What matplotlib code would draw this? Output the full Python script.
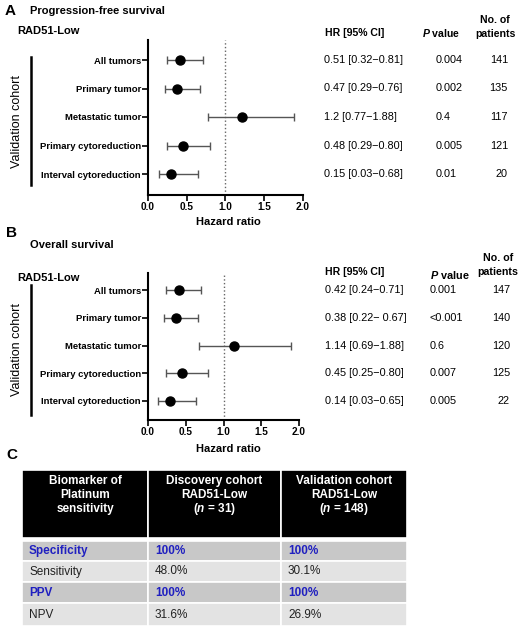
import matplotlib
matplotlib.use("Agg")
import matplotlib.pyplot as plt
from matplotlib.patches import Rectangle

plt.rcParams['font.family'] = ['Liberation Sans', 'DejaVu Sans']
plt.rcParams['mathtext.fontset'] = 'custom'
plt.rcParams['mathtext.it'] = 'Liberation Sans:italic:bold'
plt.rcParams['mathtext.rm'] = 'Liberation Sans:bold'

# ---- data ----
subgroups = ["All tumors", "Primary tumor", "Metastatic tumor",
             "Primary cytoreduction", "Interval cytoreduction"]

# points as drawn in the figure
pfs_hr = [0.41, 0.38, 1.21, 0.45, 0.30]
pfs_lo = [0.24, 0.22, 0.78, 0.25, 0.14]
pfs_hi = [0.71, 0.67, 1.89, 0.80, 0.65]
os_hr = [0.41, 0.37, 1.14, 0.45, 0.29]
os_lo = [0.24, 0.21, 0.68, 0.24, 0.13]
os_hi = [0.70, 0.66, 1.90, 0.80, 0.64]

# printed table values
pfs_ci_text = ["0.51 [0.32\u22120.81]", "0.47 [0.29\u22120.76]", "1.2 [0.77\u22121.88]",
               "0.48 [0.29\u22120.80]", "0.15 [0.03\u22120.68]"]
pfs_p = ["0.004", "0.002", "0.4", "0.005", "0.01"]
pfs_n = [141, 135, 117, 121, 20]
os_ci_text = ["0.42 [0.24\u22120.71]", "0.38 [0.22\u2212 0.67]", "1.14 [0.69\u22121.88]",
              "0.45 [0.25\u22120.80]", "0.14 [0.03\u22120.65]"]
os_p = ["0.001", "<0.001", "0.6", "0.007", "0.005"]
os_n = [147, 140, 120, 125, 22]

xticks = [0.0, 0.5, 1.0, 1.5, 2.0]

tbl_header = [["Biomarker of", "Platinum", "sensitivity"],
              ["Discovery cohort", "RAD51-Low", "($\\mathit{n}$ = 31)"],
              ["Validation cohort", "RAD51-Low", "($\\mathit{n}$ = 148)"]]
metrics = ["Specificity", "Sensitivity", "PPV", "NPV"]
discovery = ["100%", "48.0%", "100%", "31.6%"]
validation = ["100%", "30.1%", "100%", "26.9%"]
highlight = [True, False, True, False]

W, H = 520, 626
fig = plt.figure(figsize=(W / 100, H / 100), dpi=100)

ov = fig.add_axes([0, 0, 1, 1])
ov.set_xlim(0, W)
ov.set_ylim(H, 0)
ov.axis('off')


def px_axes(left, top, right, bottom):
    return fig.add_axes([left / W, 1 - bottom / H, (right - left) / W, (bottom - top) / H])


def forest(top, bottom, right, row_y, hr, lo, hi):
    ax = px_axes(148, top, right, bottom)
    step = (row_y[-1] - row_y[0]) / 4
    ax.set_ylim(4 + (bottom - row_y[-1]) / step, -(row_y[0] - top) / step)
    ax.set_xlim(0, 2)
    rows = list(range(len(hr)))
    xerr = [[h - l for h, l in zip(hr, lo)], [u - h for h, u in zip(hr, hi)]]
    ax.axvline(1.0, ls=':', color='#666666', lw=1, zorder=1)
    ax.errorbar(hr, rows, xerr=xerr, fmt='none', ecolor='#555555',
                elinewidth=1, capsize=3, capthick=1, zorder=2)
    ax.plot(hr, rows, 'o', color='black', ms=6.5, zorder=3)
    ax.set_yticks(rows)
    ax.set_yticklabels(subgroups, fontsize=6.8, fontweight='bold')
    ax.set_xticks(xticks)
    ax.set_xticklabels([f"{t:.1f}" for t in xticks], fontsize=7.2, fontweight='bold')
    for s in ['top', 'right']:
        ax.spines[s].set_visible(False)
    for s in ['left', 'bottom']:
        ax.spines[s].set_linewidth(1.5)
    ax.tick_params(axis='both', length=4, width=1.2, pad=1)
    ax.patch.set_alpha(0)
    return ax


# ---- panel A ----
ov.text(5, 11, "A", fontsize=11, fontweight='bold', va='center')
ov.text(30, 11, "Progression-free survival", fontsize=8, fontweight='bold', va='center')
ov.text(17, 31, "RAD51-Low", fontsize=8, fontweight='bold', va='center')
rowsA = [60, 88, 117, 146, 174]
forest(40, 195, 303, rowsA, pfs_hr, pfs_lo, pfs_hi)
ov.text(228, 222, "Hazard ratio", fontsize=8, fontweight='bold', ha='center', va='center')
ov.plot([31, 31], [57, 185], color='black', lw=1.8)
ov.text(17, 121, "Validation cohort", fontsize=9, rotation=90, ha='center', va='center')
ov.text(325, 33, "HR [95% CI]", fontsize=7.6, fontweight='bold', va='center')
ov.text(422, 33, "$\\mathit{P}$ value", fontsize=7.6, fontweight='bold', va='center')
ov.text(495, 20, "No. of", fontsize=7.6, fontweight='bold', ha='center', va='center')
ov.text(495, 34, "patients", fontsize=7.6, fontweight='bold', ha='center', va='center')
for y, c, p, n in zip(rowsA, pfs_ci_text, pfs_p, pfs_n):
    ov.text(324, y, c, fontsize=7.8, va='center')
    ov.text(436, y, p, fontsize=7.8, va='center')
    ov.text(508, y, str(n), fontsize=7.8, va='center', ha='right')

# ---- panel B ----
ov.text(6, 233, "B", fontsize=11, fontweight='bold', va='center')
ov.text(30, 245, "Overall survival", fontsize=8, fontweight='bold', va='center')
ov.text(17, 278, "RAD51-Low", fontsize=8, fontweight='bold', va='center')
rowsB = [290, 318, 346, 373, 401]
forest(273, 420, 299, rowsB, os_hr, os_lo, os_hi)
ov.text(228, 449, "Hazard ratio", fontsize=8, fontweight='bold', ha='center', va='center')
ov.plot([31, 31], [285, 415], color='black', lw=1.8)
ov.text(17, 350, "Validation cohort", fontsize=9, rotation=90, ha='center', va='center')
ov.text(325, 272, "HR [95% CI]", fontsize=7.6, fontweight='bold', va='center')
ov.text(430, 275, "$\\mathit{P}$ value", fontsize=7.8, fontweight='bold', va='center')
ov.text(498, 258, "No. of", fontsize=7.7, fontweight='bold', ha='center', va='center')
ov.text(498, 272, "patients", fontsize=7.7, fontweight='bold', ha='center', va='center')
for y, c, p, n in zip(rowsB, os_ci_text, os_p, os_n):
    ov.text(325, y, c, fontsize=7.8, va='center')
    ov.text(430, y, p, fontsize=7.8, va='center')
    ov.text(510, y, str(n), fontsize=7.8, va='center', ha='right')

# ---- panel C ----
ov.text(6, 455, "C", fontsize=11, fontweight='bold', va='center')
edges = [22, 148, 281, 407]
head_top, head_bot = 470, 538
for i in range(3):
    ov.add_patch(Rectangle((edges[i], head_top), edges[i + 1] - edges[i], head_bot - head_top,
                           facecolor='black', edgecolor='white', lw=1.2))
    for k, line in enumerate(tbl_header[i]):
        ov.text((edges[i] + edges[i + 1]) / 2, 481 + 14 * k, line, color='white',
                fontsize=8.5, fontweight='bold', ha='center', va='center')

row_top = [541, 561, 582, 603]
row_bot = [561, 582, 603, 626]
for r in range(len(metrics)):
    bg = '#c8c8c8' if highlight[r] else '#e3e3e3'
    col = '#2020c0' if highlight[r] else '#222222'
    wt = 'bold' if highlight[r] else 'normal'
    cells = [metrics[r], discovery[r], validation[r]]
    for i in range(3):
        ov.add_patch(Rectangle((edges[i], row_top[r]), edges[i + 1] - edges[i],
                               row_bot[r] - row_top[r], facecolor=bg,
                               edgecolor='white', lw=1.2))
        ov.text(edges[i] + 7, (row_top[r] + row_bot[r]) / 2, cells[i], color=col,
                fontsize=8.5, fontweight=wt, va='center')

fig.savefig("out.png", dpi=100)
